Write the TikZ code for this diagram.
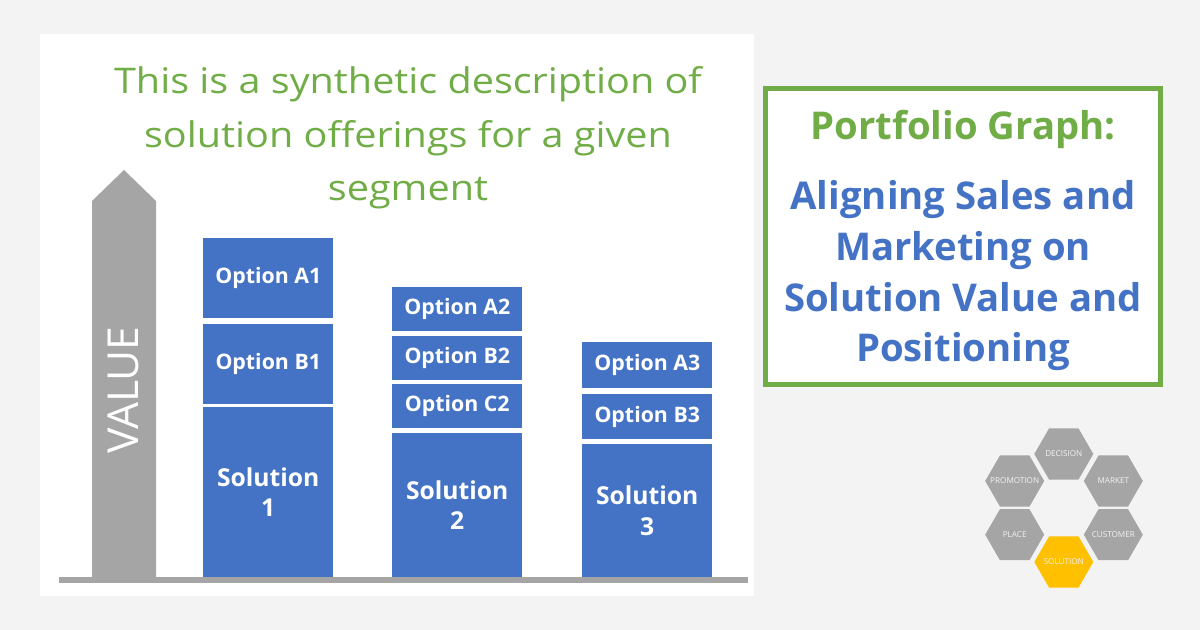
\documentclass[tikz,border=0pt]{standalone}
\usepackage{fontspec}
\setmainfont{Open Sans}
\newfontfamily\titlefont[FakeStretch=1.12]{Open Sans}
\usetikzlibrary{shapes.geometric}
\definecolor{bg}{HTML}{F3F3F3}
\definecolor{myblue}{HTML}{4472C4}
\definecolor{mygreen}{HTML}{70AD47}
\definecolor{mygray}{HTML}{A5A5A5}
\definecolor{myyellow}{HTML}{FFC000}
\definecolor{hextext}{HTML}{F2F2F2}
\begin{document}
\begin{tikzpicture}[x=0.75pt,y=-0.75pt,
  optbox/.style={fill=myblue, draw=none, anchor=north west, inner sep=0pt, text=white,
    font=\bfseries\fontsize{16}{23}\selectfont, align=center, minimum width=97.5pt},
  solbox/.style={optbox, font=\bfseries\fontsize{18.5}{23}\selectfont},
  hexa/.style={regular polygon, regular polygon sides=6, minimum size=44.25pt, inner sep=0pt, draw=none, fill=mygray},
  hexlab/.style={text=hextext, font=\fontsize{6.1}{7}\selectfont, inner sep=0pt},
  valuelab/.style={rotate=90, text=white, font=\fontsize{32}{32}\selectfont, inner sep=0pt},
  titletxt/.style={text=mygreen, font=\titlefont\fontsize{26.5}{40}\selectfont, align=center, inner sep=0pt},
  headtxt/.style={font=\bfseries\fontsize{28.7}{38}\selectfont, align=center, inner sep=0pt},
  framebox/.style={draw=mygreen, line width=3.75pt, fill=white, inner sep=0pt}
]
\fill[bg] (0,0) rectangle (1200,630);
\useasboundingbox (0,0) rectangle (1200,630);
\fill[white] (40,34) rectangle (754,596);

% title
\node[titletxt] (title) at (408,138) {This is a synthetic description of\\solution offerings for a given\\segment};

% value arrow
\fill[mygray] (92,577) -- (92,201) -- (124,170) -- (156,201) -- (156,577) -- cycle;
\node[valuelab] (value) at (123,390) {VALUE};

% column 1
\node[optbox, minimum height=60pt] (a1) at (203,238) {Option A1};
\node[optbox, minimum height=60pt] (b1) at (203,324) {Option B1};
\node[solbox, minimum height=127.5pt] (s1) at (203,407) {Solution\\1};
% column 2
\node[optbox, minimum height=33pt] (a2) at (392,287) {Option A2};
\node[optbox, minimum height=33pt] (b2) at (392,336) {Option B2};
\node[optbox, minimum height=33pt] (c2) at (392,384) {Option C2};
\node[solbox, minimum height=108pt] (s2) at (392,433) {Solution\\2};
% column 3
\node[optbox, minimum height=34.5pt] (a3) at (582,342) {Option A3};
\node[optbox, minimum height=33.75pt] (b3) at (582,394) {Option B3};
\node[solbox, minimum height=99.75pt] (s3) at (582,444) {Solution\\3};

% base bar
\fill[mygray] (59,577) rectangle (748,583);

% right frame
\node[framebox, minimum width=296.25pt, minimum height=222pt] (frame) at (963,236.5) {};
\node[headtxt, text=mygreen, anchor=base] (pg) at (963,140) {Portfolio Graph:};
\node[headtxt, text=myblue] (sub) at (963,276) {Aligning Sales and\\Marketing on\\Solution Value and\\Positioning};

% hexagons
\node[hexa] (dec) at (1063.8,454) {};
\node[hexa] (mkt) at (1113.3,481) {};
\node[hexa] (cus) at (1113.3,534.7) {};
\node[hexa, fill=myyellow] (sol) at (1063.8,562) {};
\node[hexa] (pla) at (1014.7,534.7) {};
\node[hexa] (pro) at (1014.7,481) {};
\node[hexlab] at (dec) {DECISION};
\node[hexlab] at (mkt) {MARKET};
\node[hexlab] at (cus) {CUSTOMER};
\node[hexlab] at (sol) {SOLUTION};
\node[hexlab] at (pla) {PLACE};
\node[hexlab] at (pro) {PROMOTION};
\end{tikzpicture}
\end{document}
